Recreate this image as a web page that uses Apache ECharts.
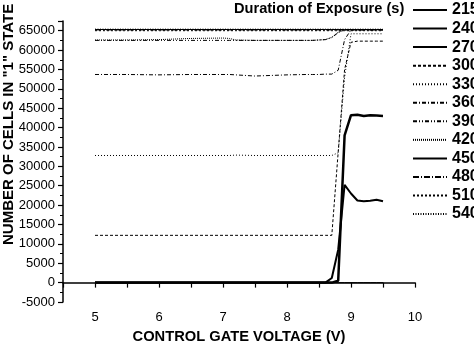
<!DOCTYPE html>
<html><head><meta charset="utf-8">
<script src="https://cdn.jsdelivr.net/npm/echarts@6/dist/echarts.min.js"></script>
<style>html,body{margin:0;padding:0;background:#fff}#c{width:474px;height:349px}</style>
</head><body><div id="c"></div>
<script>
const voltage = [5.0,5.5,6.0,6.5,7.0,7.1,7.2,7.5,8.0,8.3,8.4,8.5,8.6,8.7,8.8,8.9,9.0,9.1,9.2,9.3,9.4,9.5];
const s215 = [0,0,0,0,0,0,0,0,0,0,0,0,0,0,0,0,0,0,0,0,0,0];
const s240 = [0,0,0,0,0,0,0,0,0,0,0,0,0,1200,8500,25200,23000,21200,21000,21100,21400,21000];
const s270 = [0,0,0,0,0,0,0,0,0,0,0,0,0,0,500,38000,43200,43300,43000,43200,43100,43000];
const s300 = [12200,12200,12200,12200,12200,12200,12200,12200,12200,12200,12200,12200,12200,12200,33700,55000,62000,62300,62300,62300,62300,62300];
const s330 = [32800,32800,32800,32800,32800,32800,32900,32800,32800,32800,32800,32800,32800,32800,33500,53000,64200,64200,64200,64200,64200,64200];
const s360 = [53700,53700,53600,53700,53700,53700,53600,53300,53600,53700,53700,53700,53800,53800,54800,62700,65200,65200,65200,65200,65200,65200];
const s390 = [62500,62500,62500,62500,62500,62500,62500,62500,62500,62500,62500,62600,62700,63200,64500,65200,65200,65200,65200,65200,65200,65200];
const s420 = [62600,62600,62700,63000,63100,63000,62600,62500,62500,62500,62500,62600,62700,63300,64600,65200,65300,65300,65300,65300,65300,65300];
const s450 = [65300,65300,65300,65300,65300,65300,65300,65300,65300,65300,65300,65300,65300,65300,65300,65300,65300,65300,65300,65300,65300,65300];
const s480 = [65200,65200,65200,65200,65200,65200,65200,65200,65200,65200,65200,65200,65200,65200,65200,65200,65200,65200,65200,65200,65200,65200];
const s510 = [65000,65000,65000,65000,65000,65000,65000,65000,65000,65000,65000,65000,65000,65000,65000,65000,65000,65000,65000,65000,65000,65000];
const s540 = [65400,65400,65400,65400,65400,65400,65400,65400,65400,65400,65400,65400,65400,65400,65400,65400,65400,65400,65400,65400,65400,65400];
const durations = ['215','240','270','300','330','360','390','420','450','480','510','540'];
const seriesValues = [s215,s240,s270,s300,s330,s360,s390,s420,s450,s480,s510,s540];
const yTicks = {min:-5000, max:67500, step:5000};
const xTicks = {min:4.5, max:10, step:0.5};

const styles = [
  {width:1, type:'solid'},
  {width:2, type:'solid'},
  {width:2.5, type:'solid'},
  {width:1, type:[3,2]},
  {width:1, type:[1,2]},
  {width:1, type:[4,2,1,2]},
  {width:1, type:[4,2,1,2,1,2]},
  {width:1, type:[1,1]},
  {width:1, type:'solid'},
  {width:1, type:[6,2,1,2]},
  {width:1, type:[2,2]},
  {width:1, type:[1,1.5]}
];
const FONT = 'Liberation Sans, Arial, sans-serif';
const chart = echarts.init(document.getElementById('c'), null, {renderer:'canvas'});
chart.setOption({
  backgroundColor:'#fff',
  animation:false,
  title:{text:'Duration of Exposure (s)', left:229, top:-4,
    textStyle:{fontFamily:FONT, fontWeight:'bold', fontSize:14.6, color:'#000'}},
  legend:{orient:'vertical', left:407, top:-3, itemWidth:34, itemHeight:14, itemGap:2.55,
    data:durations,
    itemStyle:{opacity:0},
    textStyle:{fontFamily:FONT, fontWeight:'bold', fontSize:16, color:'#000', lineHeight:16}},
  grid:{left:63, right:59, top:21, bottom:43, containLabel:false},
  xAxis:{type:'value', min:xTicks.min, max:xTicks.max, interval:xTicks.step,
    name:'CONTROL GATE VOLTAGE (V)', nameLocation:'middle', nameGap:27,
    nameTextStyle:{fontFamily:FONT, fontWeight:'bold', fontSize:14.7, color:'#000'},
    axisLine:{lineStyle:{color:'#000', width:1.5}},
    axisTick:{inside:false, length:5, lineStyle:{color:'#000', width:1.2}},
    splitLine:{show:false},
    axisLabel:{fontFamily:FONT, fontSize:13, color:'#000', margin:9,
      formatter:function(v){ return Math.abs(v-Math.round(v))<1e-6 && v>=5 ? String(Math.round(v)) : ''; }}
  },
  yAxis:{type:'value', min:yTicks.min, max:yTicks.max, interval:yTicks.step,
    axisLine:{show:true, lineStyle:{color:'#000', width:1.5}},
    axisTick:{show:true, inside:false, length:5, lineStyle:{color:'#000', width:1.2}},
    minorTick:{show:true, splitNumber:2, length:3, lineStyle:{color:'#000', width:1}},
    splitLine:{show:false},
    axisLabel:{fontFamily:FONT, fontSize:13, color:'#000', margin:8, showMaxLabel:false,
      formatter:function(v){ return v>65000 ? '' : String(v); }}
  },
  graphic:[{type:'text', rotation:Math.PI/2, x:1, y:245,
    style:{text:'NUMBER OF CELLS IN "1" STATE', font:'bold 15px '+FONT, fill:'#000'}}],
  series: durations.map(function(name,i){
    return {name:name, type:'line', symbol:'none', showSymbol:false, silent:true,
      data: voltage.map(function(v,j){ return [v, seriesValues[i][j]]; }),
      lineStyle:{color:'#000', width:styles[i].width, type:styles[i].type},
      itemStyle:{color:'#000'}, z: 10-i*0.1};
  })
});
</script></body></html>
